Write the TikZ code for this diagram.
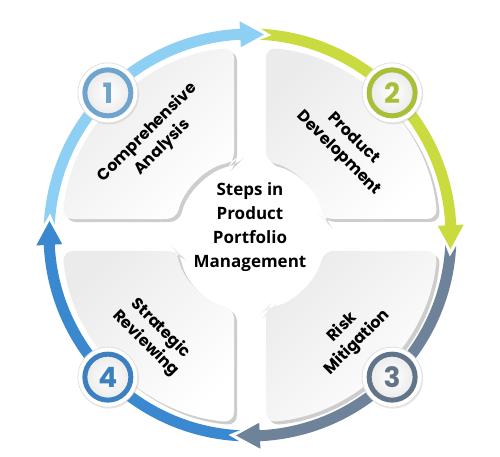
\documentclass[tikz,border=0pt]{standalone}
\usepackage{fontspec}
\setmainfont{Poppins}
\newfontfamily\centerfont{Open Sans}
\usetikzlibrary{shadows}

\definecolor{arclightblue}{HTML}{8ECFF4}
\definecolor{arcgreen}{HTML}{C9DB3F}
\definecolor{arcslate}{HTML}{6E8399}
\definecolor{arcblue}{HTML}{3A88CF}
\definecolor{ringlightblue}{HTML}{6FA4CC}
\definecolor{ringgreen}{HTML}{A9BF3A}
\definecolor{ringslate}{HTML}{617489}
\definecolor{ringblue}{HTML}{3C80C0}
\definecolor{panelgray}{HTML}{EBEBEB}
\definecolor{panelshadow}{HTML}{CDCDCD}

\newcommand{\panelpath}{(-16,73.3) -- (-16,187.3) arc[start angle=94.88, end angle=175.12, radius=188pt] -- (-73.3,16) arc[start angle=167.68, end angle=102.32, radius=75pt] -- cycle}

\begin{document}
\begin{tikzpicture}[x=1pt, y=1pt,
    panel/.style={rounded corners=10pt, top color=panelgray, bottom color=white, shading angle=45},
    panelside/.style={rounded corners=10pt, fill=panelshadow},
    badge/.style={circle, fill=white, draw=black!12, line width=0.8pt, minimum size=60pt, inner sep=0pt,
        drop shadow={opacity=0.2, shadow xshift=1pt, shadow yshift=-1.5pt}},
    ring/.style={circle, line width=5pt, minimum size=46pt, inner sep=0pt, inner color=white, outer color=black!8,
        font=\fontsize{28}{28}\selectfont\bfseries},
    steplabel/.style={align=center, font=\fontsize{16}{21}\selectfont\bfseries}]
    \useasboundingbox (-250,-222) rectangle (250,235);

    % panels
    \fill[panelside, xshift=3, yshift=-3] \panelpath;
    \fill[panelside, xshift=3, yshift=-3, rotate=-90] \panelpath;
    \fill[panelside, xshift=3, yshift=-3, rotate=-180] \panelpath;
    \fill[panelside, xshift=3, yshift=-3, rotate=-270] \panelpath;
    \shade[panel] \panelpath;
    \shade[panel, rotate=-90] \panelpath;
    \shade[panel, rotate=-180] \panelpath;
    \shade[panel, rotate=-270] \panelpath;

    % ring arrows
    \fill[arclightblue] (177:206.5pt) arc[start angle=177, end angle=92.8, radius=206.5pt] -- (92.8:214pt) -- (86:201pt) -- (92.8:188pt) -- (92.8:195.5pt) arc[start angle=92.8, end angle=177, radius=195.5pt] -- (173.8:201pt) -- cycle;
    \fill[arcgreen] (87:206.5pt) arc[start angle=87, end angle=2.8, radius=206.5pt] -- (2.8:214pt) -- (-4:201pt) -- (2.8:188pt) -- (2.8:195.5pt) arc[start angle=2.8, end angle=87, radius=195.5pt] -- (83.8:201pt) -- cycle;
    \fill[arcslate] (-3:206.5pt) arc[start angle=-3, end angle=-87.2, radius=206.5pt] -- (-87.2:214pt) -- (-94:201pt) -- (-87.2:188pt) -- (-87.2:195.5pt) arc[start angle=-87.2, end angle=-3, radius=195.5pt] -- (-6.2:201pt) -- cycle;
    \fill[arcblue] (267:206.5pt) arc[start angle=267, end angle=182.8, radius=206.5pt] -- (182.8:214pt) -- (176:201pt) -- (182.8:188pt) -- (182.8:195.5pt) arc[start angle=182.8, end angle=267, radius=195.5pt] -- (263.8:201pt) -- cycle;

    % badges
    \node[badge] (badgeOne) at (135:201pt) {};
    \node[badge] (badgeTwo) at (45:201pt) {};
    \node[badge] (badgeThree) at (-45:201pt) {};
    \node[badge] (badgeFour) at (-135:201pt) {};
    \node[ring, draw=ringlightblue, text=ringlightblue] (numOne) at (badgeOne) {1};
    \node[ring, draw=ringgreen, text=ringgreen] (numTwo) at (badgeTwo) {2};
    \node[ring, draw=ringslate, text=ringslate] (numThree) at (badgeThree) {3};
    \node[ring, draw=ringblue, text=ringblue] (numFour) at (badgeFour) {4};

    % labels
    \node[steplabel, rotate=45] (analysis) at (-95,95) {Comprehensive\\Analysis};
    \node[steplabel, rotate=-45] (development) at (96,89) {Product\\Development};
    \node[steplabel, rotate=45] (mitigation) at (100,-100) {Risk\\Mitigation};
    \node[steplabel, rotate=-45] (reviewing) at (-97,-101) {Strategic\\Reviewing};
    \node[align=center, font=\centerfont\fontsize{17}{24}\selectfont\bfseries] (title) at (0,8) {Steps in\\Product\\Portfolio\\Management};
\end{tikzpicture}
\end{document}
